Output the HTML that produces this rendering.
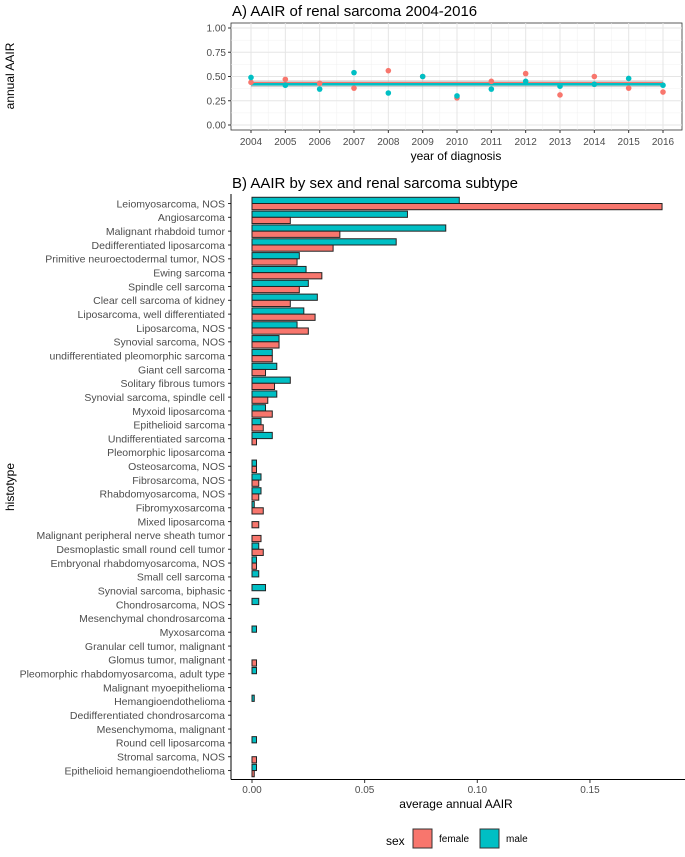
<!DOCTYPE html>
<html><head><meta charset="utf-8"><style>
body{margin:0;background:#fff;font-family:"Liberation Sans",sans-serif}
svg text{font-family:"Liberation Sans",sans-serif}
</style></head><body>
<svg id="c" width="685" height="852" xmlns="http://www.w3.org/2000/svg">
<g id="pa"></g>
<g id="pb"></g>
</svg>
<script>
const years=[2004,2005,2006,2007,2008,2009,2010,2011,2012,2013,2014,2015,2016];
const femaleAAIR=[0.44,0.47,0.43,0.38,0.56,0.50,0.28,0.45,0.53,0.31,0.50,0.38,0.34];
const maleAAIR=[0.49,0.41,0.37,0.54,0.33,0.50,0.30,0.37,0.45,0.40,0.42,0.48,0.41];
const femaleFit=0.43, maleFit=0.42, bandLo=0.39, bandHi=0.46;
const aTicks=[0,0.25,0.5,0.75,1.0];
const aTickLabels=["0.00","0.25","0.50","0.75","1.00"];
const histotypes=["Leiomyosarcoma, NOS","Angiosarcoma","Malignant rhabdoid tumor","Dedifferentiated liposarcoma","Primitive neuroectodermal tumor, NOS","Ewing sarcoma","Spindle cell sarcoma","Clear cell sarcoma of kidney","Liposarcoma, well differentiated","Liposarcoma, NOS","Synovial sarcoma, NOS","undifferentiated pleomorphic sarcoma","Giant cell sarcoma","Solitary fibrous tumors","Synovial sarcoma, spindle cell","Myxoid liposarcoma","Epithelioid sarcoma","Undifferentiated sarcoma","Pleomorphic liposarcoma","Osteosarcoma, NOS","Fibrosarcoma, NOS","Rhabdomyosarcoma, NOS","Fibromyxosarcoma","Mixed liposarcoma","Malignant peripheral nerve sheath tumor","Desmoplastic small round cell tumor","Embryonal rhabdomyosarcoma, NOS","Small cell sarcoma","Synovial sarcoma, biphasic","Chondrosarcoma, NOS","Mesenchymal chondrosarcoma","Myxosarcoma","Granular cell tumor, malignant","Glomus tumor, malignant","Pleomorphic rhabdomyosarcoma, adult type","Malignant myoepithelioma","Hemangioendothelioma","Dedifferentiated chondrosarcoma","Mesenchymoma, malignant","Round cell liposarcoma","Stromal sarcoma, NOS","Epithelioid hemangioendothelioma"];
const maleAvg=[0.092,0.069,0.086,0.064,0.021,0.024,0.025,0.029,0.023,0.020,0.012,0.009,0.011,0.017,0.011,0.006,0.004,0.009,null,0.002,0.004,0.004,0.001,0,0,0.003,0.002,0.003,0.006,0.003,null,0.002,null,0,0.002,null,0.001,null,null,0.002,0,0.002];
const femaleAvg=[0.182,0.017,0.039,0.036,0.020,0.031,0.021,0.017,0.028,0.025,0.012,0.009,0.006,0.010,0.007,0.009,0.005,0.002,null,0.002,0.003,0.003,0.005,0.003,0.004,0.005,0.002,0,0,0,null,0,null,0.002,0,null,0,null,null,0,0.002,0.001];
const bTicks=[0,0.05,0.10,0.15];
const bTickLabels=["0.00","0.05","0.10","0.15"];

const NS="http://www.w3.org/2000/svg";
function mk(parent,tag,attrs,txt){const e=document.createElementNS(NS,tag);for(const k in attrs)e.setAttribute(k,attrs[k]);if(txt!==undefined)e.textContent=txt;parent.appendChild(e);return e;}
const RED="#F8766D",TEAL="#00BFC4";

// Panel A
const pa=document.getElementById('pa');
const ax=y=>251+(y-2004)*(663-251)/12;
const ay=v=>125-v*97;
let t=mk(pa,'text',{x:232,y:16,'font-size':15,fill:'#000'},'A) AAIR of renal sarcoma 2004-2016');

let r=mk(pa,'rect',{x:231,y:23,width:451,height:107,fill:'#fff',stroke:'#333','stroke-width':0.8});

for(let v=0.125;v<1;v+=0.25){mk(pa,'line',{x1:231,x2:682,y1:ay(v),y2:ay(v),stroke:'#f0f0f0','stroke-width':0.5});}
for(let i=0;i<years.length-1;i++){const xm=(ax(years[i])+ax(years[i+1]))/2;mk(pa,'line',{x1:xm,x2:xm,y1:23,y2:130,stroke:'#f0f0f0','stroke-width':0.5});}
aTicks.forEach((v,i)=>{mk(pa,'line',{x1:231,x2:682,y1:ay(v),y2:ay(v),stroke:'#e5e5e5','stroke-width':1});
 mk(pa,'line',{x1:228,x2:231,y1:ay(v),y2:ay(v),stroke:'#333'});
 let l=mk(pa,'text',{x:226,y:ay(v)+3.5,'font-size':10,fill:'#4d4d4d','text-anchor':'end'},aTickLabels[i]);
 });
years.forEach(y=>{mk(pa,'line',{x1:ax(y),x2:ax(y),y1:23,y2:130,stroke:'#e5e5e5','stroke-width':1});
 mk(pa,'line',{x1:ax(y),x2:ax(y),y1:130,y2:133,stroke:'#333'});
 let l=mk(pa,'text',{x:ax(y),y:145,'font-size':10,fill:'#4d4d4d','text-anchor':'middle'},String(y));
 });
let band=mk(pa,'rect',{x:ax(2004),y:ay(bandHi),width:ax(2016)-ax(2004),height:ay(bandLo)-ay(bandHi),fill:'#999','fill-opacity':0.45});

let fl=mk(pa,'line',{x1:ax(2004),x2:ax(2016),y1:ay(femaleFit),y2:ay(femaleFit),stroke:RED,'stroke-width':2.5});

let ml=mk(pa,'line',{x1:ax(2004),x2:ax(2016),y1:ay(maleFit),y2:ay(maleFit),stroke:TEAL,'stroke-width':2.5});

years.forEach((y,i)=>{let c=mk(pa,'circle',{cx:ax(y),cy:ay(femaleAAIR[i]),r:2.8,fill:RED});
 
 let d=mk(pa,'circle',{cx:ax(y),cy:ay(maleAAIR[i]),r:2.8,fill:TEAL});
 });
t=mk(pa,'text',{x:456,y:160,'font-size':12,fill:'#000','text-anchor':'middle'},'year of diagnosis');

t=mk(pa,'text',{x:0,y:0,'font-size':12,fill:'#000','text-anchor':'middle',transform:'translate(14,76) rotate(-90)'},'annual AAIR');


// Panel B
const pb=document.getElementById('pb');
const bx=v=>252+v*2253;
const step=13.83, y0=203.5;
const by=i=>y0+i*step;
const bh=step*0.9/2;
t=mk(pb,'text',{x:232,y:188,'font-size':15,fill:'#000'},'B) AAIR by sex and renal sarcoma subtype');

histotypes.forEach((h,i)=>{
 let l=mk(pb,'text',{x:225,y:by(i)+3.8,'font-size':10.5,fill:'#4d4d4d','text-anchor':'end'},h);
 
 mk(pb,'line',{x1:228,x2:231,y1:by(i),y2:by(i),stroke:'#333'});
 if(maleAvg[i]!==null){let b=mk(pb,'rect',{x:bx(0),y:by(i)-bh,width:bx(maleAvg[i])-bx(0),height:bh,fill:TEAL,stroke:'#222','stroke-width':1});
  }
 if(femaleAvg[i]!==null){let b=mk(pb,'rect',{x:bx(0),y:by(i),width:bx(femaleAvg[i])-bx(0),height:bh,fill:RED,stroke:'#222','stroke-width':1});
  }
});
mk(pb,'line',{x1:231,x2:231,y1:194,y2:779.5,stroke:'#000','stroke-width':1});
mk(pb,'line',{x1:231,x2:685,y1:779.5,y2:779.5,stroke:'#000','stroke-width':1});
bTicks.forEach((v,i)=>{mk(pb,'line',{x1:bx(v),x2:bx(v),y1:780,y2:783,stroke:'#333'});
 let l=mk(pb,'text',{x:bx(v),y:793,'font-size':10,fill:'#4d4d4d','text-anchor':'middle'},bTickLabels[i]);
 });
t=mk(pb,'text',{x:456,y:808,'font-size':12,fill:'#000','text-anchor':'middle'},'average annual AAIR');

t=mk(pb,'text',{x:0,y:0,'font-size':12,fill:'#000','text-anchor':'middle',transform:'translate(14,487) rotate(-90)'},'histotype');

// legend
const lg=mk(pb,'g',{});

t=mk(lg,'text',{x:386,y:845,'font-size':12,fill:'#000'},'sex');

let k=mk(lg,'rect',{x:413,y:829,width:19,height:19,fill:RED,stroke:'#333','stroke-width':1});

t=mk(lg,'text',{x:439,y:842,'font-size':10,fill:'#000'},'female');

k=mk(lg,'rect',{x:480,y:829,width:19,height:19,fill:TEAL,stroke:'#333','stroke-width':1});

t=mk(lg,'text',{x:506,y:842,'font-size':10,fill:'#000'},'male');

</script>
</body></html>
